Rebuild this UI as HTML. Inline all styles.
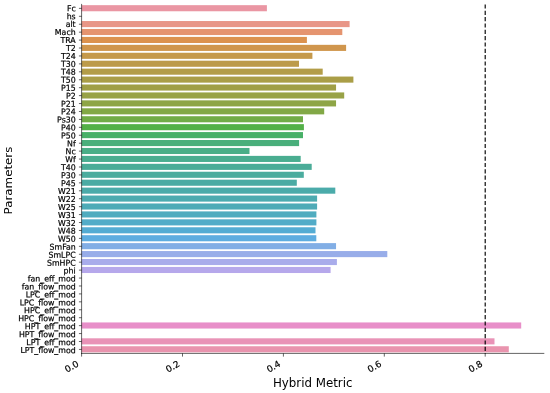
<!DOCTYPE html>
<html lang="en"><head><meta charset="utf-8"><title>Hybrid Metric by Parameter</title>
<style>
html,body{margin:0;padding:0;background:#fff;}
body{width:550px;height:393px;overflow:hidden;}
svg{display:block;}
text{font-family:"DejaVu Sans","Liberation Sans",sans-serif;fill:#000;}
.tl{font-size:7.85px;stroke:#000;stroke-width:0.2px;}
.al{font-size:11.85px;}
.xl{font-size:9px;stroke:#000;stroke-width:0.2px;}
</style></head><body>
<svg width="550" height="393" viewBox="0 0 550 393">
<rect x="0" y="0" width="550" height="393" fill="#fff"/>
<g id="bars">
<rect x="81.60" y="5.17" width="185.30" height="6.10" fill="#ea96a3"/>
<rect x="81.60" y="21.03" width="268.00" height="6.10" fill="#e89687"/>
<rect x="81.60" y="28.96" width="260.70" height="6.10" fill="#e5946f"/>
<rect x="81.60" y="36.89" width="225.30" height="6.10" fill="#dc924e"/>
<rect x="81.60" y="44.83" width="264.50" height="6.10" fill="#d0964d"/>
<rect x="81.60" y="52.76" width="230.80" height="6.10" fill="#c5994b"/>
<rect x="81.60" y="60.69" width="217.40" height="6.10" fill="#bc9b4a"/>
<rect x="81.60" y="68.62" width="241.10" height="6.10" fill="#b39d48"/>
<rect x="81.60" y="76.55" width="271.80" height="6.10" fill="#aa9e47"/>
<rect x="81.60" y="84.48" width="254.45" height="6.10" fill="#a09f45"/>
<rect x="81.60" y="92.42" width="262.60" height="6.10" fill="#98a246"/>
<rect x="81.60" y="100.35" width="254.45" height="6.10" fill="#8ea546"/>
<rect x="81.60" y="108.28" width="242.60" height="6.10" fill="#82a846"/>
<rect x="81.60" y="116.21" width="221.40" height="6.10" fill="#71ac47"/>
<rect x="81.60" y="124.14" width="222.30" height="6.10" fill="#53b047"/>
<rect x="81.60" y="132.07" width="221.40" height="6.10" fill="#48b067"/>
<rect x="81.60" y="140.01" width="217.50" height="6.10" fill="#49af7b"/>
<rect x="81.60" y="147.94" width="167.90" height="6.10" fill="#49ae87"/>
<rect x="81.60" y="155.87" width="219.10" height="6.10" fill="#4aad90"/>
<rect x="81.60" y="163.80" width="230.10" height="6.10" fill="#4aac98"/>
<rect x="81.60" y="171.73" width="222.20" height="6.10" fill="#4bac9e"/>
<rect x="81.60" y="179.67" width="215.20" height="6.10" fill="#4baba4"/>
<rect x="81.60" y="187.60" width="253.70" height="6.10" fill="#4babaa"/>
<rect x="81.60" y="195.53" width="235.50" height="6.10" fill="#4dabb0"/>
<rect x="81.60" y="203.46" width="235.50" height="6.10" fill="#4eabb7"/>
<rect x="81.60" y="211.39" width="234.80" height="6.10" fill="#50acbf"/>
<rect x="81.60" y="219.32" width="234.80" height="6.10" fill="#52acc8"/>
<rect x="81.60" y="227.26" width="233.90" height="6.10" fill="#54acd3"/>
<rect x="81.60" y="235.19" width="234.70" height="6.10" fill="#5eade0"/>
<rect x="81.60" y="243.12" width="254.45" height="6.10" fill="#82aee5"/>
<rect x="81.60" y="251.05" width="305.70" height="6.10" fill="#98ade9"/>
<rect x="81.60" y="258.98" width="255.30" height="6.10" fill="#a9aceb"/>
<rect x="81.60" y="266.92" width="249.00" height="6.10" fill="#b6a8eb"/>
<rect x="81.60" y="322.44" width="439.60" height="6.10" fill="#e88fc9"/>
<rect x="81.60" y="338.30" width="412.90" height="6.10" fill="#e993b7"/>
<rect x="81.60" y="346.23" width="427.20" height="6.10" fill="#e994ae"/>
</g>
<line x1="485.20" y1="4.40" x2="485.20" y2="353.40" stroke="#000" stroke-width="1.15" stroke-dasharray="4.15 2.19"/>
<g stroke="#000" stroke-width="0.61" fill="none" stroke-linecap="square">
<line x1="81.60" y1="4.40" x2="81.60" y2="353.40"/>
<line x1="81.60" y1="353.40" x2="543.80" y2="353.40"/>
</g>
<g stroke="#000" stroke-width="0.61" fill="none">
<line x1="78.93" y1="8.37" x2="81.60" y2="8.37"/>
<line x1="78.93" y1="16.30" x2="81.60" y2="16.30"/>
<line x1="78.93" y1="24.23" x2="81.60" y2="24.23"/>
<line x1="78.93" y1="32.16" x2="81.60" y2="32.16"/>
<line x1="78.93" y1="40.09" x2="81.60" y2="40.09"/>
<line x1="78.93" y1="48.02" x2="81.60" y2="48.02"/>
<line x1="78.93" y1="55.96" x2="81.60" y2="55.96"/>
<line x1="78.93" y1="63.89" x2="81.60" y2="63.89"/>
<line x1="78.93" y1="71.82" x2="81.60" y2="71.82"/>
<line x1="78.93" y1="79.75" x2="81.60" y2="79.75"/>
<line x1="78.93" y1="87.68" x2="81.60" y2="87.68"/>
<line x1="78.93" y1="95.62" x2="81.60" y2="95.62"/>
<line x1="78.93" y1="103.55" x2="81.60" y2="103.55"/>
<line x1="78.93" y1="111.48" x2="81.60" y2="111.48"/>
<line x1="78.93" y1="119.41" x2="81.60" y2="119.41"/>
<line x1="78.93" y1="127.34" x2="81.60" y2="127.34"/>
<line x1="78.93" y1="135.28" x2="81.60" y2="135.28"/>
<line x1="78.93" y1="143.21" x2="81.60" y2="143.21"/>
<line x1="78.93" y1="151.14" x2="81.60" y2="151.14"/>
<line x1="78.93" y1="159.07" x2="81.60" y2="159.07"/>
<line x1="78.93" y1="167.00" x2="81.60" y2="167.00"/>
<line x1="78.93" y1="174.93" x2="81.60" y2="174.93"/>
<line x1="78.93" y1="182.87" x2="81.60" y2="182.87"/>
<line x1="78.93" y1="190.80" x2="81.60" y2="190.80"/>
<line x1="78.93" y1="198.73" x2="81.60" y2="198.73"/>
<line x1="78.93" y1="206.66" x2="81.60" y2="206.66"/>
<line x1="78.93" y1="214.59" x2="81.60" y2="214.59"/>
<line x1="78.93" y1="222.53" x2="81.60" y2="222.53"/>
<line x1="78.93" y1="230.46" x2="81.60" y2="230.46"/>
<line x1="78.93" y1="238.39" x2="81.60" y2="238.39"/>
<line x1="78.93" y1="246.32" x2="81.60" y2="246.32"/>
<line x1="78.93" y1="254.25" x2="81.60" y2="254.25"/>
<line x1="78.93" y1="262.18" x2="81.60" y2="262.18"/>
<line x1="78.93" y1="270.12" x2="81.60" y2="270.12"/>
<line x1="78.93" y1="278.05" x2="81.60" y2="278.05"/>
<line x1="78.93" y1="285.98" x2="81.60" y2="285.98"/>
<line x1="78.93" y1="293.91" x2="81.60" y2="293.91"/>
<line x1="78.93" y1="301.84" x2="81.60" y2="301.84"/>
<line x1="78.93" y1="309.77" x2="81.60" y2="309.77"/>
<line x1="78.93" y1="317.71" x2="81.60" y2="317.71"/>
<line x1="78.93" y1="325.64" x2="81.60" y2="325.64"/>
<line x1="78.93" y1="333.57" x2="81.60" y2="333.57"/>
<line x1="78.93" y1="341.50" x2="81.60" y2="341.50"/>
<line x1="78.93" y1="349.43" x2="81.60" y2="349.43"/>
<line x1="81.60" y1="353.40" x2="81.60" y2="356.60"/>
<line x1="182.50" y1="353.40" x2="182.50" y2="356.60"/>
<line x1="283.40" y1="353.40" x2="283.40" y2="356.60"/>
<line x1="384.30" y1="353.40" x2="384.30" y2="356.60"/>
<line x1="485.20" y1="353.40" x2="485.20" y2="356.60"/>
</g>
<g class="tl" text-anchor="end">
<text transform="translate(75.70 11.22) rotate(0.05) scale(1 1.04)">Fc</text>
<text transform="translate(75.70 19.17) rotate(0.05) scale(1 1.04)">hs</text>
<text transform="translate(75.70 27.12) rotate(0.05) scale(1 1.04)">alt</text>
<text transform="translate(75.70 35.07) rotate(0.05) scale(1 1.04)">Mach</text>
<text transform="translate(75.70 43.02) rotate(0.05) scale(1 1.04)">TRA</text>
<text transform="translate(75.70 50.98) rotate(0.05) scale(1 1.04)">T2</text>
<text transform="translate(75.70 58.93) rotate(0.05) scale(1 1.04)">T24</text>
<text transform="translate(75.70 66.88) rotate(0.05) scale(1 1.04)">T30</text>
<text transform="translate(75.70 74.83) rotate(0.05) scale(1 1.04)">T48</text>
<text transform="translate(75.70 82.78) rotate(0.05) scale(1 1.04)">T50</text>
<text transform="translate(75.70 90.73) rotate(0.05) scale(1 1.04)">P15</text>
<text transform="translate(75.70 98.69) rotate(0.05) scale(1 1.04)">P2</text>
<text transform="translate(75.70 106.64) rotate(0.05) scale(1 1.04)">P21</text>
<text transform="translate(75.70 114.59) rotate(0.05) scale(1 1.04)">P24</text>
<text transform="translate(75.70 122.54) rotate(0.05) scale(1 1.04)">Ps30</text>
<text transform="translate(75.70 130.49) rotate(0.05) scale(1 1.04)">P40</text>
<text transform="translate(75.70 138.44) rotate(0.05) scale(1 1.04)">P50</text>
<text transform="translate(75.70 146.40) rotate(0.05) scale(1 1.04)">Nf</text>
<text transform="translate(75.70 154.35) rotate(0.05) scale(1 1.04)">Nc</text>
<text transform="translate(75.70 162.30) rotate(0.05) scale(1 1.04)">Wf</text>
<text transform="translate(75.70 170.25) rotate(0.05) scale(1 1.04)">T40</text>
<text transform="translate(75.70 178.20) rotate(0.05) scale(1 1.04)">P30</text>
<text transform="translate(75.70 186.16) rotate(0.05) scale(1 1.04)">P45</text>
<text transform="translate(75.70 194.11) rotate(0.05) scale(1 1.04)">W21</text>
<text transform="translate(75.70 202.06) rotate(0.05) scale(1 1.04)">W22</text>
<text transform="translate(75.70 210.01) rotate(0.05) scale(1 1.04)">W25</text>
<text transform="translate(75.70 217.96) rotate(0.05) scale(1 1.04)">W31</text>
<text transform="translate(75.70 225.91) rotate(0.05) scale(1 1.04)">W32</text>
<text transform="translate(75.70 233.87) rotate(0.05) scale(1 1.04)">W48</text>
<text transform="translate(75.70 241.82) rotate(0.05) scale(1 1.04)">W50</text>
<text transform="translate(75.70 249.77) rotate(0.05) scale(1 1.04)">SmFan</text>
<text transform="translate(75.70 257.72) rotate(0.05) scale(1 1.04)">SmLPC</text>
<text transform="translate(75.70 265.67) rotate(0.05) scale(1 1.04)">SmHPC</text>
<text transform="translate(75.70 273.63) rotate(0.05) scale(1 1.04)">phi</text>
<text transform="translate(75.70 281.58) rotate(0.05) scale(1 1.04)">fan_eff_mod</text>
<text transform="translate(75.70 289.53) rotate(0.05) scale(1 1.04)">fan_flow_mod</text>
<text transform="translate(75.70 297.48) rotate(0.05) scale(1 1.04)">LPC_eff_mod</text>
<text transform="translate(75.70 305.43) rotate(0.05) scale(1 1.04)">LPC_flow_mod</text>
<text transform="translate(75.70 313.38) rotate(0.05) scale(1 1.04)">HPC_eff_mod</text>
<text transform="translate(75.70 321.34) rotate(0.05) scale(1 1.04)">HPC_flow_mod</text>
<text transform="translate(75.70 329.29) rotate(0.05) scale(1 1.04)">HPT_eff_mod</text>
<text transform="translate(75.70 337.24) rotate(0.05) scale(1 1.04)">HPT_flow_mod</text>
<text transform="translate(75.70 345.19) rotate(0.05) scale(1 1.04)">LPT_eff_mod</text>
<text transform="translate(75.70 353.14) rotate(0.05) scale(1 1.04)">LPT_flow_mod</text>
</g>
<g class="xl" text-anchor="end">
<text transform="translate(79.50 365.67) rotate(-30)" x="0" y="0">0.0</text>
<text transform="translate(180.40 365.67) rotate(-30)" x="0" y="0">0.2</text>
<text transform="translate(281.30 365.67) rotate(-30)" x="0" y="0">0.4</text>
<text transform="translate(382.20 365.67) rotate(-30)" x="0" y="0">0.6</text>
<text transform="translate(483.10 365.67) rotate(-30)" x="0" y="0">0.8</text>
</g>
<text class="al" text-anchor="middle" transform="translate(312.70 387.20) scale(1 1.03)">Hybrid Metric</text>
<text class="al" text-anchor="middle" transform="translate(12.30 180.50) rotate(-90) scale(1 0.96)">Parameters</text>
</svg>
</body></html>
